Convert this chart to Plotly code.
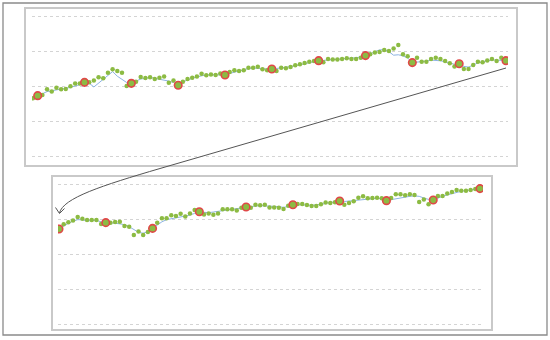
import plotly.graph_objects as go

# ---------------- data ----------------
top_line = [42, 43.1, 44.5, 46, 46.5, 47.5, 47.5, 48, 49, 50, 51, 52.6, 52, 49.3, 52, 55, 58, 60.3, 57, 55,
            52.5, 51.9, 53.5, 55, 55.5, 56, 55.5, 55, 54.5, 53.5, 52.5, 50.5, 53, 54.5, 55.5, 56.5, 57.5, 58, 58, 58,
            58, 57.9, 59, 60, 60.5, 61.5, 62.5, 62.8, 62.8, 62.5, 62, 62.1, 62.5, 63, 63.3, 63.8, 64.5, 65.3, 66, 67,
            67.6, 68.1, 68.3, 68.5, 68.8, 69, 69.2, 69.5, 69.8, 70.2, 70.8, 71.7, 72.8, 74.5, 75.8, 76, 74.5, 72, 72.3, 71.5,
            70, 66.7, 67, 67.3, 67.8, 68.5, 68.5, 68, 67.3, 66.3, 65.5, 65.9, 64, 63.5, 65, 66.5, 67.3, 68, 68.6, 68.5,
            68.3, 68.1]
top_dots = [41.2, 43.1, 43.6, 47.6, 46.0, 48.8, 47.6, 47.9, 49.8, 51.7, 51.7, 52.6, 52.6, 54.0, 56.2, 55.5, 59.5, 61.9, 60.7, 59.5,
            50.0, 51.9, 53.1, 56.4, 55.7, 56.2, 55.0, 55.9, 56.7, 52.4, 54.0, 50.5, 53.1, 55.0, 55.9, 56.7, 58.8, 57.6, 58.3, 57.9,
            59.0, 57.9, 60.0, 61.2, 60.7, 61.2, 63.1, 63.1, 63.8, 61.9, 61.2, 62.1, 60.7, 63.1, 62.6, 63.6, 64.8, 65.5, 66.4, 67.4,
            67.9, 68.1, 66.9, 69.3, 69.0, 69.0, 69.3, 69.8, 69.3, 69.3, 70.2, 71.7, 72.6, 74.0, 74.3, 75.7, 75.0, 76.7, 79.3, 72.6,
            71.2, 66.7, 70.2, 67.4, 67.4, 69.3, 70.2, 69.3, 67.9, 66.2, 64.0, 65.9, 62.1, 62.1, 65.0, 67.4, 66.9, 68.3, 69.3, 67.9,
            70.2, 68.1]
top_marks = [1, 11, 21, 31, 41, 51, 61, 71, 81, 91, 101]

bot_line = [67.9, 70, 72, 73.5, 74.5, 74.5, 73.5, 74, 74, 73, 72.4, 72.2, 72, 71.7, 71, 69.5, 67.5, 65.5, 64.8, 66,
            68.3, 70.5, 73, 74.5, 75.2, 75.8, 76.3, 77, 77.8, 79, 80.2, 79.8, 79.5, 80, 80.5, 81, 81.5, 81.9, 82.5, 83,
            83.6, 84, 84.3, 84.5, 84.5, 84.2, 84, 83.8, 83.3, 84, 85.2, 85.2, 85, 85, 84.8, 85, 85.5, 86.2, 86.8, 87.3,
            87.9, 87.5, 87.8, 88.2, 88.5, 88.8, 89.2, 89.5, 89.8, 89.3, 88.1, 88.8, 89.5, 90.2, 90.8, 91.2, 91.5, 91.2, 90, 89,
            88.6, 90, 91.2, 92.2, 93.2, 94.2, 94.8, 95.3, 95.8, 96.3, 96.7]
bot_dots = [67.9, 71.2, 72.6, 74.0, 76.4, 75.2, 74.3, 74.3, 74.3, 71.4, 72.4, 72.4, 72.9, 73.1, 70.0, 69.5, 63.6, 66.0, 63.6, 65.7,
            68.3, 72.4, 75.5, 75.5, 77.6, 77.1, 78.8, 76.7, 79.0, 81.4, 80.2, 78.3, 79.0, 78.1, 79.0, 81.9, 81.9, 81.9, 81.0, 83.1,
            83.6, 83.1, 85.2, 84.8, 85.2, 83.3, 83.3, 83.1, 82.1, 84.5, 85.2, 85.7, 85.7, 85.0, 84.3, 84.3, 85.5, 86.7, 86.4, 86.9,
            87.9, 85.2, 86.4, 87.6, 90.2, 91.2, 89.8, 90.0, 90.2, 89.8, 88.1, 90.0, 92.6, 92.6, 91.9, 92.6, 92.1, 87.1, 89.0, 85.5,
            88.6, 91.4, 91.4, 93.3, 94.3, 95.7, 95.2, 95.2, 95.7, 96.4, 96.7]
bot_marks = [0, 10, 20, 30, 40, 50, 60, 70, 80, 90]

grid_vals = [0, 25, 50, 75, 100]

# ---------------- styling ----------------
W, H = 550, 340
LINE_C = "#8db3e2"
DOT_C = "#8cbb43"
RING_C = "#e04848"

def px(x):
    return x / W

def py(y):
    return 1 - y / H

fig = go.Figure()

def add_series(xa, ya, line, dots, marks):
    xs = list(range(len(line)))
    fig.add_trace(go.Scatter(x=xs, y=line, mode="lines", line=dict(color=LINE_C, width=1),
                             xaxis=xa, yaxis=ya, hoverinfo="skip", showlegend=False))
    fig.add_trace(go.Scatter(x=xs, y=dots, mode="markers",
                             marker=dict(color=DOT_C, size=4.5, line=dict(width=0)),
                             xaxis=xa, yaxis=ya, showlegend=False))
    fig.add_trace(go.Scatter(x=marks, y=[line[i] for i in marks], mode="markers",
                             marker=dict(color=DOT_C, size=7.5, line=dict(color=RING_C, width=1.6)),
                             xaxis=xa, yaxis=ya, showlegend=False))

add_series("x", "y", top_line, top_dots, top_marks)
add_series("x2", "y2", bot_line, bot_dots, bot_marks)

# pixel geometry of each panel's plotting area
ppu = 1.4  # pixels per value unit
pad = 1.0
top_dom_y = [py(156 + pad * ppu), py(16 - pad * ppu)]
bot_dom_y = [py(324 + pad * ppu), py(184 - pad * ppu)]

def xrange_for(n, first_px, last_px, left_px, right_px):
    step = (last_px - first_px) / (n - 1)
    return [-(first_px - left_px) / step, (n - 1) + (right_px - last_px) / step]

axis_common = dict(showticklabels=False, ticks="", showline=False, zeroline=False, fixedrange=True)
yaxis_common = dict(axis_common, showgrid=True, gridcolor="#d4d4d4", griddash="dot", gridwidth=1,
                    tickvals=grid_vals, range=[-pad, 100 + pad])

fig.update_layout(
    width=W, height=H, margin=dict(l=0, r=0, t=0, b=0),
    paper_bgcolor="white", plot_bgcolor="rgba(0,0,0,0)",
    xaxis=dict(axis_common, showgrid=False, domain=[px(32), px(508)],
               range=xrange_for(len(top_line), 33, 506, 32, 508), anchor="y"),
    yaxis=dict(yaxis_common, domain=top_dom_y, anchor="x"),
    xaxis2=dict(axis_common, showgrid=False, domain=[px(58), px(483)],
                range=xrange_for(len(bot_line), 59, 480, 58, 483), anchor="y2"),
    yaxis2=dict(yaxis_common, domain=bot_dom_y, anchor="x2"),
)

def rect(x0, y0, x1, y1, color, width):
    fig.add_shape(type="rect", xref="paper", yref="paper",
                  x0=px(x0), x1=px(x1), y0=py(y1), y1=py(y0),
                  line=dict(color=color, width=width), fillcolor="rgba(0,0,0,0)", layer="below")

# outer frame and panel frames
rect(3, 3, 547, 335, "#8a8a8a", 1.3)
rect(25, 8, 517, 166, "#c9c9c9", 2)
rect(52, 176, 492, 330, "#c9c9c9", 2)

# connector arrow (pixel positions, converted to paper)
def P(x, y):
    return f"{px(x):.5f},{py(y):.5f}"

fig.add_shape(type="path", xref="paper", yref="paper",
              path=f"M {P(506, 68)} L {P(160, 168.5)} C {P(102, 185.5)} {P(63, 198)} {P(59.5, 213)}",
              line=dict(color="#555555", width=1))
fig.add_shape(type="path", xref="paper", yref="paper",
              path=f"M {P(55.5, 207.5)} L {P(59.5, 213.5)} L {P(64.5, 208.5)}",
              line=dict(color="#555555", width=1))

fig.write_html("out.html", config={"displayModeBar": False},
               post_script="document.body.style.margin='0';document.body.style.overflow='hidden';")
